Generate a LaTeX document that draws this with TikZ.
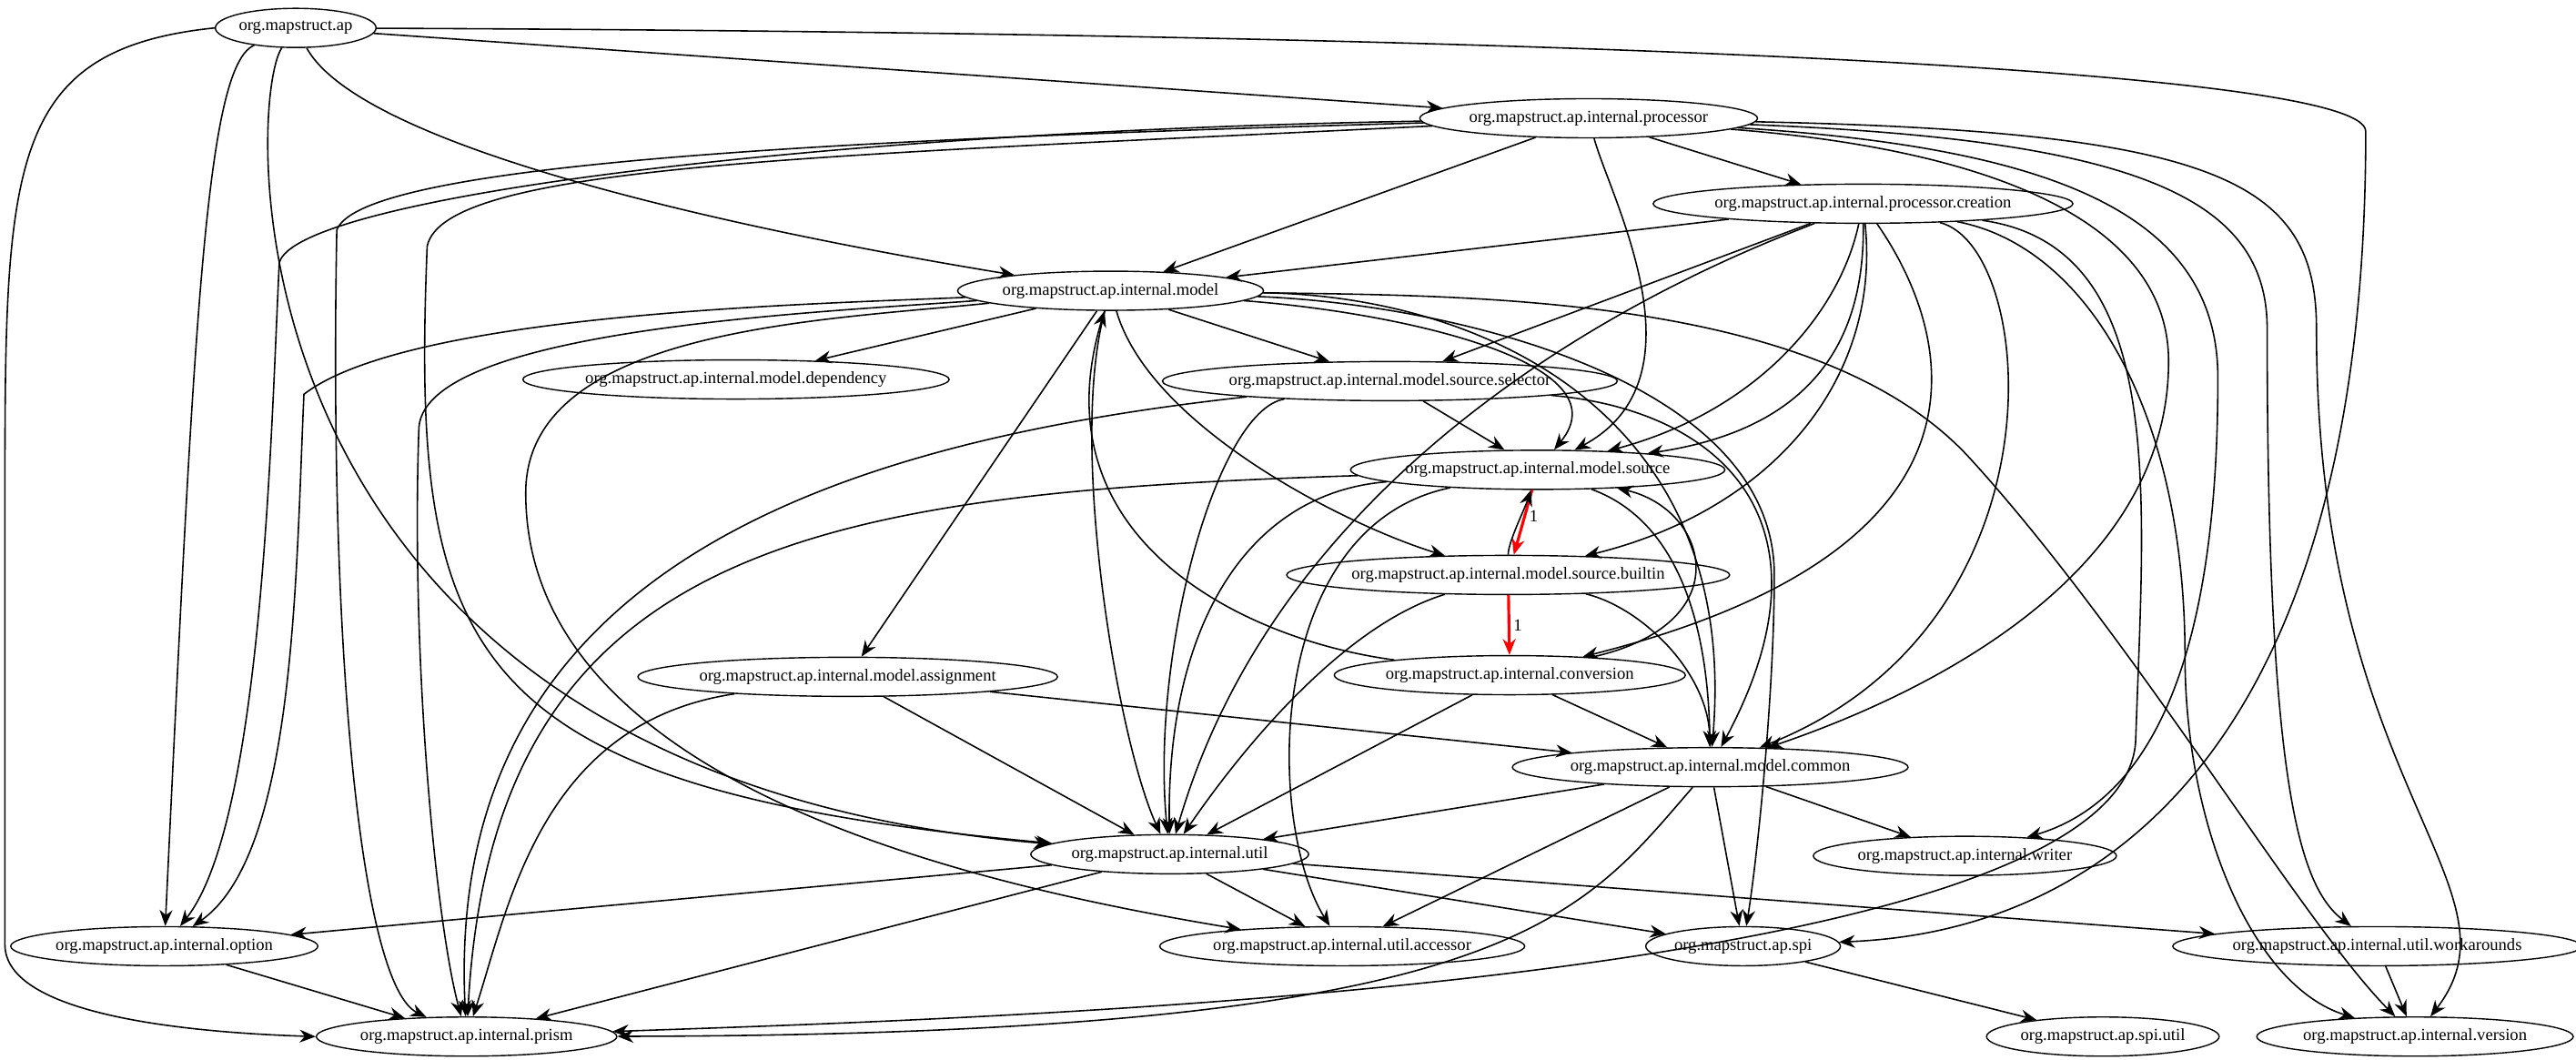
\documentclass[tikz,border=0pt]{standalone}
\usepackage{fontspec}
\setmainfont{Liberation Serif}
\usetikzlibrary{shapes.geometric,arrows.meta}
\tikzset{
  pkg/.style={draw,ellipse,inner xsep=0pt,inner ysep=0pt,minimum height=0.43cm,font=\fontsize{5.3}{6}\selectfont},
  dep/.style={-{Stealth[length=5pt,width=4pt]},line width=0.45pt},
  cyc/.style={dep,red,line width=0.9pt},
  lbl/.style={font=\fontsize{5.3}{6}\selectfont,inner sep=1pt}
}
\begin{document}
\begin{tikzpicture}[x=0.018055cm,y=-0.018055cm]
\useasboundingbox (0,0) rectangle (1568,645);
% packages
\node[pkg] (ap) at (180,17) {org.mapstruct.ap};
\node[pkg] (proc) at (967,72) {org.mapstruct.ap.internal.processor};
\node[pkg] (creation) at (1134,124) {org.mapstruct.ap.internal.processor.creation};
\node[pkg] (model) at (676,177) {org.mapstruct.ap.internal.model};
\node[pkg] (dependency) at (448,231) {org.mapstruct.ap.internal.model.dependency};
\node[pkg] (selector) at (846,232) {org.mapstruct.ap.internal.model.source.selector};
\node[pkg] (source) at (936,286) {org.mapstruct.ap.internal.model.source};
\node[pkg] (builtin) at (918,350) {org.mapstruct.ap.internal.model.source.builtin};
\node[pkg] (assignment) at (516,412) {org.mapstruct.ap.internal.model.assignment};
\node[pkg] (conversion) at (919,411) {org.mapstruct.ap.internal.conversion};
\node[pkg] (common) at (1041,467) {org.mapstruct.ap.internal.model.common};
\node[pkg] (util) at (712,520) {org.mapstruct.ap.internal.util};
\node[pkg] (writer) at (1196,521) {org.mapstruct.ap.internal.writer};
\node[pkg] (option) at (100,576) {org.mapstruct.ap.internal.option};
\node[pkg] (accessor) at (817,576) {org.mapstruct.ap.internal.util.accessor};
\node[pkg] (spi) at (1061,576) {org.mapstruct.ap.spi};
\node[pkg] (workarounds) at (1447,576) {org.mapstruct.ap.internal.util.workarounds};
\node[pkg] (prism) at (284,631) {org.mapstruct.ap.internal.prism};
\node[pkg] (spiutil) at (1280,631) {org.mapstruct.ap.spi.util};
\node[pkg] (version) at (1470,631) {org.mapstruct.ap.internal.version};

% org.mapstruct.ap
\draw[dep] (ap) -- (proc);
\draw[dep] (ap) .. controls (220,90) and (450,140) .. (model);
\draw[dep] (ap) .. controls (125,40) and (118,200) .. (option);
\draw[dep] (ap.west) .. controls (5,30) and (3,100) .. (3,300) -- (3,575) .. controls (3,615) and (100,628) .. (prism.west);
\draw[dep] (ap) .. controls (150,60) and (130,470) .. (util);
\draw[dep] (ap) .. controls (900,20) and (1440,40) .. (1440,80) .. controls (1440,540) and (1200,570) .. (spi);
% processor
\draw[dep] (proc) -- (creation);
\draw[dep] (proc) -- (model);
\draw[dep] (proc) .. controls (980,120) and (1040,230) .. (source);
\draw[dep] (proc) .. controls (500,80) and (180,120) .. (170,160) .. controls (165,260) and (160,500) .. (option);
\draw[dep] (proc) .. controls (500,85) and (220,100) .. (205,140) .. controls (200,400) and (220,600) .. (prism);
\draw[dep] (proc) .. controls (500,95) and (270,100) .. (260,150) .. controls (250,400) and (280,480) .. (util);
\draw[dep] (proc) .. controls (1200,90) and (1320,130) .. (1320,220) .. controls (1320,360) and (1150,430) .. (common);
\draw[dep] (proc) .. controls (1250,90) and (1350,130) .. (1350,230) .. controls (1350,420) and (1300,490) .. (writer);
\draw[dep] (proc) .. controls (1300,85) and (1380,120) .. (1380,200) .. controls (1380,480) and (1400,540) .. (workarounds);
\draw[dep] (proc) .. controls (1350,80) and (1410,110) .. (1410,200) .. controls (1410,480) and (1540,540) .. (version);
% processor.creation
\draw[dep] (creation) -- (model);
\draw[dep] (creation) -- (selector);
\draw[dep] (creation) .. controls (1120,190) and (1070,250) .. (source);
\draw[dep] (creation) .. controls (1135,200) and (1110,260) .. (source);
\draw[dep] (creation) .. controls (1145,230) and (1080,310) .. (builtin);
\draw[dep] (creation) .. controls (1180,190) and (1240,330) .. (conversion);
\draw[dep] (creation) .. controls (1240,150) and (1260,380) .. (common);
\draw[dep] (creation) .. controls (1070,150) and (790,250) .. (util);
\draw[dep] (creation) .. controls (1320,150) and (1305,300) .. (1300,450) .. controls (1295,600) and (600,620) .. (prism);
\draw[dep] (creation) .. controls (1270,150) and (1330,250) .. (1330,400) .. controls (1330,500) and (1370,600) .. (version);
% model
\draw[dep] (model) -- (dependency);
\draw[dep] (model) -- (selector);
\draw[dep] (model) .. controls (850,190) and (990,220) .. (source);
\draw[dep] (model) .. controls (700,260) and (820,320) .. (builtin);
\draw[dep] (model) -- (assignment);
\draw[dep] (model) .. controls (900,180) and (1060,250) .. (common);
\draw[dep] (model) .. controls (650,270) and (680,450) .. (util);
\draw[dep] (model) .. controls (500,185) and (250,190) .. (185,240) .. controls (180,350) and (180,520) .. (option);
\draw[dep] (model) .. controls (500,190) and (260,200) .. (255,260) .. controls (250,400) and (265,560) .. (prism);
\draw[dep] (model) .. controls (500,195) and (320,200) .. (320,300) .. controls (320,480) and (600,540) .. (accessor);
\draw[dep] (model) .. controls (880,185) and (1080,230) .. (1080,350) .. controls (1080,420) and (1070,520) .. (spi);
\draw[dep] (model) .. controls (900,180) and (1110,180) .. (1200,280) .. controls (1300,390) and (1400,560) .. (version);
% selector
\draw[dep] (selector) -- (source);
\draw[dep] (selector) .. controls (740,250) and (700,400) .. (util);
\draw[dep] (selector) .. controls (500,270) and (270,350) .. (prism);
\draw[dep] (selector) .. controls (1050,250) and (1120,320) .. (common);
% source
\draw[dep] (source) .. controls (760,300) and (710,380) .. (util);
\draw[dep] (source) .. controls (770,320) and (770,500) .. (accessor);
\draw[dep] (source) .. controls (500,300) and (300,330) .. (prism);
\draw[dep] (source) .. controls (1030,320) and (1040,400) .. (common);
\draw[cyc] (source) -- node[lbl,right,text=black,pos=0.4]{1} (builtin);
% builtin
\draw[dep] (builtin) .. controls (918,330) and (928,310) .. (source);
\draw[cyc] (builtin) -- node[lbl,right,text=black]{1} (conversion);
\draw[dep] (builtin) .. controls (820,380) and (760,450) .. (util);
\draw[dep] (builtin) .. controls (1000,370) and (1040,410) .. (common);
% conversion
\draw[dep] (conversion) .. controls (760,390) and (630,330) .. (model);
\draw[dep] (conversion) .. controls (1060,380) and (1040,310) .. (source);
\draw[dep] (conversion) -- (common);
\draw[dep] (conversion) -- (util);
% assignment
\draw[dep] (assignment) -- (common);
\draw[dep] (assignment) -- (util);
\draw[dep] (assignment) .. controls (330,440) and (310,550) .. (prism);
% common
\draw[dep] (common) -- (util);
\draw[dep] (common) -- (writer);
\draw[dep] (common) -- (spi);
\draw[dep] (common) -- (accessor);
\draw[dep] (common) .. controls (960,560) and (920,630) .. (prism);
% util
\draw[dep] (util) -- (option);
\draw[dep] (util) -- (accessor);
\draw[dep] (util) -- (spi);
\draw[dep] (util) -- (prism);
\draw[dep] (util) -- (workarounds);
% leaves
\draw[dep] (option) -- (prism);
\draw[dep] (spi) -- (spiutil);
\draw[dep] (workarounds) -- (version);
\end{tikzpicture}
\end{document}
